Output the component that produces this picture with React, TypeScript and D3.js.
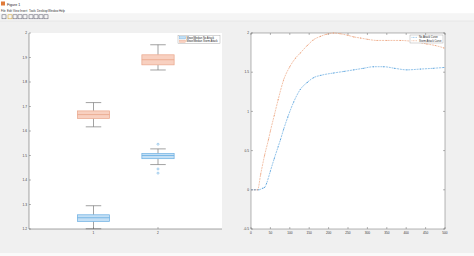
import React from "react";
import * as d3 from "d3";

// ---- Left: box plots ----
const boxPositions = [1, 2];
const legendLeft = ["Mean/Median No Attack", "Mean/Median Storm Attack"];
// [whiskerLow, q1, median, q3, whiskerHigh]
const noAttackBoxes = [
  [1.201, 1.231, 1.246, 1.258, 1.295],
  [1.463, 1.487, 1.5, 1.508, 1.527],
];
const stormBoxes = [
  [1.617, 1.651, 1.667, 1.682, 1.716],
  [1.849, 1.87, 1.891, 1.911, 1.952],
];
const noAttackOutliers = [[], [1.546, 1.445, 1.428]];
const stormOutliers = [[], []];
const leftYTicks = [1.2, 1.3, 1.4, 1.5, 1.6, 1.7, 1.8, 1.9, 2];
const leftXTicks = [1, 2];

// ---- Right: curves ----
const legendRight = ["No Attack Curve", "Storm Attack Curve"];
const stormX = [0, 10, 17, 25, 35, 45, 50, 60, 70, 84, 100, 115, 127, 145, 160, 179, 195, 213, 230, 250, 265, 282, 300, 325, 350, 385, 420, 453, 475, 497];
const stormY = [0, 0, 0, 0.2, 0.44, 0.64, 0.75, 0.95, 1.15, 1.4, 1.57, 1.68, 1.745, 1.84, 1.91, 1.957, 1.985, 2.0, 1.99, 1.97, 1.95, 1.936, 1.92, 1.905, 1.905, 1.905, 1.89, 1.86, 1.84, 1.81];
const noAttackX = [0, 10, 20, 30, 35, 40, 50, 60, 70, 76, 84, 95, 110, 127, 145, 161, 180, 213, 240, 265, 290, 316, 342, 370, 402, 437, 470, 497];
const noAttackY = [0, 0, 0, 0.02, 0.03, 0.08, 0.24, 0.4, 0.55, 0.64, 0.77, 0.93, 1.12, 1.28, 1.37, 1.43, 1.46, 1.49, 1.51, 1.53, 1.55, 1.57, 1.57, 1.55, 1.53, 1.54, 1.55, 1.56];
const rightYTicks = [-0.5, 0, 0.5, 1, 1.5, 2];
const rightXTicks = [0, 50, 100, 150, 200, 250, 300, 350, 400, 450, 500];

const menuItems = ["File", "Edit", "View", "Insert", "Tools", "Desktop", "Window", "Help"];
const menuX = [1, 7, 13, 20, 29, 37, 48, 59];

const BLUE_FILL = "#c3dff5";
const BLUE_EDGE = "#6aaee2";
const ORANGE_FILL = "#f8d0c0";
const ORANGE_EDGE = "#e9a68a";
const LINE_BLUE = "#4f9ddb";
const LINE_ORANGE = "#eb9a70";
const AXIS = "#4d4d4d";
const FONT = "Liberation Sans, Arial, sans-serif";

export default function App() {
  const W = 474, H = 256;
  const L = { x0: 29, x1: 222, y0: 33, y1: 229 };
  const lx = d3.scaleLinear().domain([0, 3]).range([L.x0, L.x1 + 0.5]);
  const ly = d3.scaleLinear().domain([1.2, 2]).range([L.y1, L.y0]);
  const R = { x0: 251, x1: 445, y0: 33, y1: 229 };
  const rx = d3.scaleLinear().domain([0, 500]).range([R.x0, R.x1]);
  const ry = d3.scaleLinear().domain([-0.5, 2]).range([R.y1, R.y0]);

  const stormPath = d3.line<number>().x((_, i) => rx(stormX[i])).y((d) => ry(d)).curve(d3.curveMonotoneX)(stormY) || "";
  const noPath = d3.line<number>().x((_, i) => rx(noAttackX[i])).y((d) => ry(d)).curve(d3.curveMonotoneX)(noAttackY) || "";

  const boxW = lx(1.25) - lx(1);
  const capW = lx(1.12) - lx(1);

  const drawBoxes = (boxes: number[][], outliers: number[][], fill: string, edge: string, key: string) =>
    boxes.map((b, i) => {
      const cx = lx(boxPositions[i]);
      const [wl, q1, med, q3, wh] = b;
      return (
        <g key={key + i}>
          <line x1={cx} x2={cx} y1={ly(wh)} y2={ly(q3)} stroke="#7a7a7a" strokeWidth={0.7} />
          <line x1={cx} x2={cx} y1={ly(q1)} y2={ly(wl)} stroke="#7a7a7a" strokeWidth={0.7} />
          <line x1={cx - capW} x2={cx + capW} y1={ly(wh)} y2={ly(wh)} stroke="#7a7a7a" strokeWidth={0.7} />
          <line x1={cx - capW} x2={cx + capW} y1={ly(wl)} y2={ly(wl)} stroke="#7a7a7a" strokeWidth={0.7} />
          <rect x={cx - boxW} y={ly(q3)} width={boxW * 2} height={ly(q1) - ly(q3)} fill={fill} stroke={edge} strokeWidth={0.7} />
          <line x1={cx - boxW} x2={cx + boxW} y1={ly(med)} y2={ly(med)} stroke={edge} strokeWidth={0.8} />
          {outliers[i].map((o, j) => (
            <circle key={j} cx={cx} cy={ly(o)} r={1} fill="none" stroke={edge} strokeWidth={0.6} />
          ))}
        </g>
      );
    });

  return (
    <svg width={W} height={H} style={{ position: "absolute", left: 0, top: 0, fontFamily: FONT }}>
      <rect x={0} y={0} width={W} height={H} fill="#f0f0f0" />
      <rect x={0} y={253} width={W} height={3} fill="#fafafa" />
      {/* title bar */}
      <rect x={0} y={0} width={W} height={8} fill="#ffffff" />
      <rect x={1} y={1.5} width={4} height={4} fill="#e07b39" />
      <text x={7} y={5.5} fontSize={3.6} fill="#222">Figure 1</text>
      {/* menu bar */}
      <rect x={0} y={8} width={W} height={5.5} fill="#ffffff" />
      {menuItems.map((m, i) => (
        <text key={m} x={menuX[i]} y={12.3} fontSize={2.9} fill="#333">{m}</text>
      ))}
      {/* toolbar */}
      <rect x={0} y={13.5} width={W} height={7} fill="#f5f5f5" />
      {[0, 6, 11, 16, 21, 27, 32, 37, 42].map((dx, i) => (
        <rect key={i} x={2 + dx} y={14.8} width={4} height={4} fill="none" stroke={i === 1 ? "#d4a020" : "#556"} strokeWidth={0.5} />
      ))}
      <line x1={0} x2={W} y1={21} y2={21} stroke="#dcdcdc" strokeWidth={0.5} />

      {/* LEFT AXES */}
      <rect x={L.x0} y={L.y0} width={L.x1 - L.x0} height={L.y1 - L.y0} fill="#fff" />
      {leftYTicks.map((t) => (
        <g key={t}>
          <line x1={L.x0} x2={L.x0 + 2} y1={ly(t)} y2={ly(t)} stroke={AXIS} strokeWidth={0.4} />
          <text x={L.x0 - 2} y={ly(t) + 1.1} fontSize={3.2} textAnchor="end" fill="#333">{String(t)}</text>
        </g>
      ))}
      {leftXTicks.map((t) => (
        <g key={t}>
          <line x1={lx(t)} x2={lx(t)} y1={L.y1} y2={L.y1 - 2} stroke={AXIS} strokeWidth={0.4} />
          <text x={lx(t)} y={L.y1 + 5} fontSize={3.2} textAnchor="middle" fill="#333">{String(t)}</text>
        </g>
      ))}
      {drawBoxes(stormBoxes, stormOutliers, ORANGE_FILL, ORANGE_EDGE, "s")}
      {drawBoxes(noAttackBoxes, noAttackOutliers, BLUE_FILL, BLUE_EDGE, "n")}
      <line x1={L.x0} x2={L.x0} y1={L.y0} y2={L.y1} stroke={AXIS} strokeWidth={0.5} />
      <line x1={L.x0} x2={L.x1} y1={L.y1} y2={L.y1} stroke={AXIS} strokeWidth={0.5} />
      {/* left legend */}
      <g transform="translate(178,35.5)">
        <rect x={0} y={0} width={42} height={8} fill="#fff" stroke="#999" strokeWidth={0.4} />
        <rect x={1.5} y={1.2} width={6} height={2.2} fill={BLUE_FILL} stroke={BLUE_EDGE} strokeWidth={0.4} />
        <rect x={1.5} y={4.6} width={6} height={2.2} fill={ORANGE_FILL} stroke={ORANGE_EDGE} strokeWidth={0.4} />
        {legendLeft.map((s, i) => (
          <text key={s} x={8.5} y={3.3 + i * 3.4} fontSize={2.6} fill="#222">{s}</text>
        ))}
      </g>

      {/* RIGHT AXES */}
      <rect x={R.x0} y={R.y0} width={R.x1 - R.x0} height={R.y1 - R.y0} fill="#fff" stroke={AXIS} strokeWidth={0.4} />
      {rightYTicks.map((t) => (
        <g key={t}>
          <line x1={R.x0} x2={R.x0 + 2} y1={ry(t)} y2={ry(t)} stroke={AXIS} strokeWidth={0.4} />
          <line x1={R.x1} x2={R.x1 - 2} y1={ry(t)} y2={ry(t)} stroke={AXIS} strokeWidth={0.4} />
          <text x={R.x0 - 2} y={ry(t) + 1.1} fontSize={3.2} textAnchor="end" fill="#333">{String(t)}</text>
        </g>
      ))}
      {rightXTicks.map((t) => (
        <g key={t}>
          <line x1={rx(t)} x2={rx(t)} y1={R.y1} y2={R.y1 - 2} stroke={AXIS} strokeWidth={0.4} />
          <line x1={rx(t)} x2={rx(t)} y1={R.y0} y2={R.y0 + 2} stroke={AXIS} strokeWidth={0.4} />
          <text x={rx(t)} y={R.y1 + 5} fontSize={3.2} textAnchor="middle" fill="#333">{String(t)}</text>
        </g>
      ))}
      <clipPath id="rclip">
        <rect x={R.x0} y={R.y0 - 1} width={R.x1 - R.x0} height={R.y1 - R.y0 + 1} />
      </clipPath>
      <g clipPath="url(#rclip)">
        <path d={stormPath} fill="none" stroke={LINE_ORANGE} strokeWidth={0.6} strokeDasharray="2,0.8" />
        <path d={noPath} fill="none" stroke={LINE_BLUE} strokeWidth={0.6} strokeDasharray="2,0.8" />
        {stormX.map((x, i) => (
          <circle key={"so" + i} cx={rx(x)} cy={ry(stormY[i])} r={0.55} fill={LINE_ORANGE} />
        ))}
        {noAttackX.map((x, i) => (
          <circle key={"no" + i} cx={rx(x)} cy={ry(noAttackY[i])} r={0.55} fill={LINE_BLUE} />
        ))}
      </g>
      {/* right legend */}
      <g transform="translate(410,35)">
        <rect x={0} y={0} width={33} height={8} fill="#fff" stroke="#999" strokeWidth={0.4} />
        <line x1={1.5} x2={7.5} y1={2.4} y2={2.4} stroke={LINE_BLUE} strokeWidth={0.5} strokeDasharray="1,0.5" />
        <line x1={1.5} x2={7.5} y1={5.7} y2={5.7} stroke={LINE_ORANGE} strokeWidth={0.5} strokeDasharray="1,0.5" />
        {legendRight.map((s, i) => (
          <text key={s} x={9} y={3.3 + i * 3.4} fontSize={2.6} fill="#222">{s}</text>
        ))}
      </g>
    </svg>
  );
}
